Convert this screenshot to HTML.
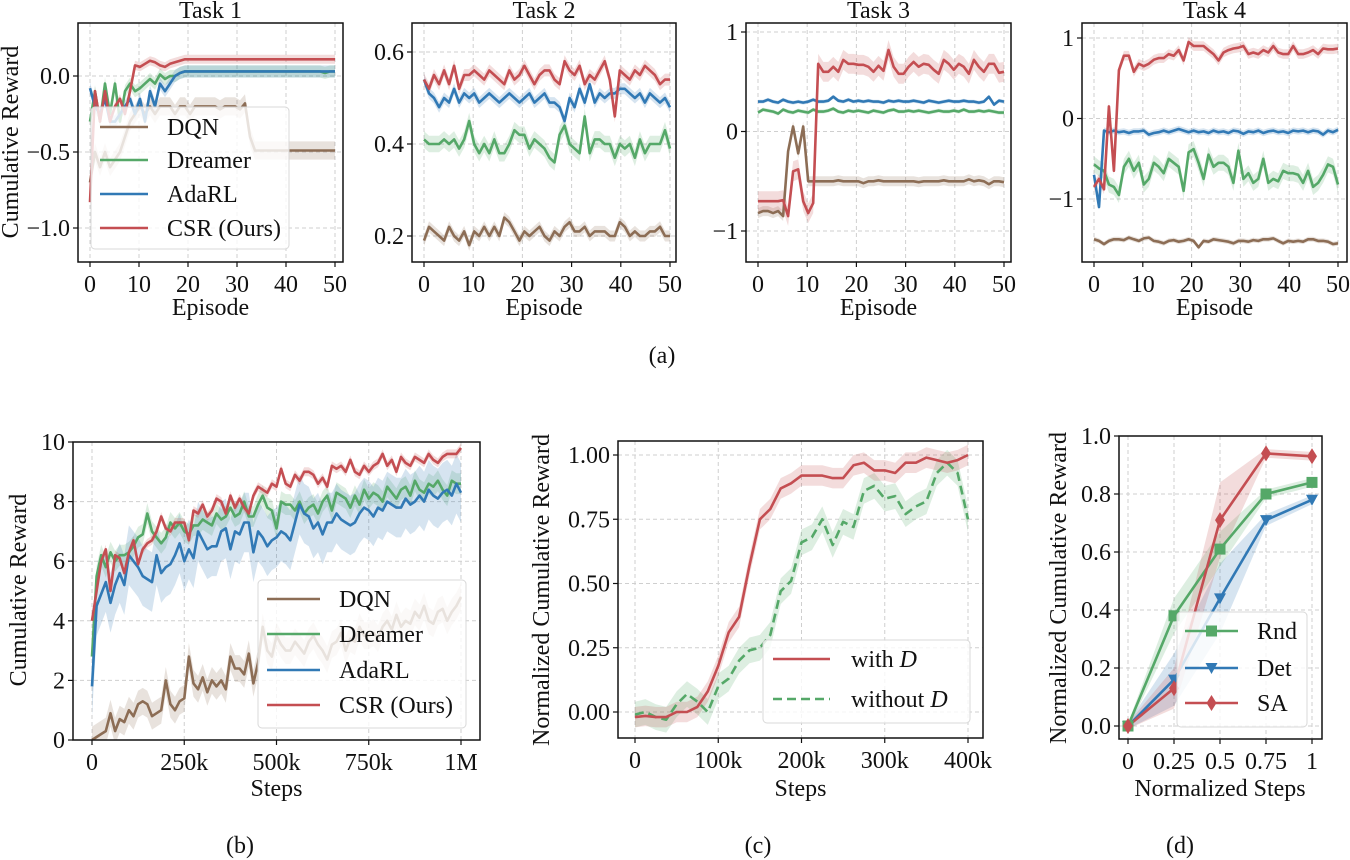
<!DOCTYPE html>
<html><head><meta charset="utf-8">
<style>
html,body{margin:0;padding:0;background:#fff;}
svg{display:block;}
svg text, svg tspan{font-family:"Liberation Serif","Times New Roman",serif;}
svg text{font-size:24px;}
</style></head>
<body>
<svg id="fig" width="1350" height="860" viewBox="0 0 1350 860" xmlns="http://www.w3.org/2000/svg" font-family="Liberation Serif, serif"></svg>
<script>
// ---------- data ----------
const episodes = Array.from({length:50},(_,i)=>i);
const t1CSR = [-0.83,-0.1,-0.3,-0.1,-0.3,-0.2,-0.15,-0.25,-0.1,0.07,0.06,0.08,0.1,0.09,0.07,0.06,0.08,0.09,0.1,0.11,0.11,0.11,0.11,0.11,0.11,0.11,0.11,0.11,0.11,0.11,0.11,0.11,0.11,0.11,0.11,0.11,0.11,0.11,0.11,0.11,0.11,0.11,0.11,0.11,0.11,0.11,0.11,0.11,0.11,0.11];
const t1Dreamer = [-0.3,-0.1,-0.3,-0.05,-0.25,-0.05,-0.3,-0.1,-0.05,-0.1,-0.08,-0.05,-0.02,-0.05,0.01,-0.02,0.0,0.0,0.02,0.03,0.03,0.03,0.03,0.03,0.03,0.03,0.03,0.03,0.03,0.03,0.03,0.03,0.03,0.03,0.03,0.03,0.03,0.03,0.03,0.03,0.03,0.03,0.03,0.03,0.03,0.03,0.03,0.02,0.03,0.03];
const t1AdaRL = [-0.08,-0.2,-0.25,-0.15,-0.3,-0.3,-0.25,-0.2,-0.15,-0.25,-0.15,-0.3,-0.1,-0.2,-0.05,-0.1,-0.05,0.0,0.02,0.03,0.03,0.03,0.03,0.03,0.03,0.03,0.03,0.03,0.03,0.03,0.03,0.03,0.03,0.03,0.03,0.03,0.03,0.03,0.03,0.03,0.03,0.03,0.03,0.03,0.03,0.03,0.03,0.03,0.03,0.03];
const t1DQN = [-0.7,-0.5,-0.6,-0.5,-0.6,-0.55,-0.5,-0.4,-0.3,-0.25,-0.2,-0.25,-0.2,-0.25,-0.2,-0.2,-0.2,-0.25,-0.2,-0.2,-0.25,-0.2,-0.2,-0.2,-0.2,-0.2,-0.22,-0.2,-0.2,-0.2,-0.22,-0.18,-0.4,-0.49,-0.49,-0.49,-0.49,-0.49,-0.49,-0.49,-0.49,-0.49,-0.49,-0.49,-0.49,-0.49,-0.49,-0.49,-0.49,-0.49];

const t2CSR = [0.54,0.52,0.55,0.53,0.56,0.53,0.57,0.52,0.55,0.55,0.56,0.55,0.54,0.56,0.55,0.54,0.53,0.56,0.54,0.55,0.57,0.55,0.53,0.55,0.56,0.56,0.54,0.53,0.58,0.56,0.55,0.57,0.53,0.55,0.54,0.56,0.58,0.54,0.46,0.56,0.55,0.54,0.56,0.55,0.57,0.56,0.55,0.53,0.54,0.54];
const t2AdaRL = [0.54,0.51,0.50,0.48,0.50,0.49,0.52,0.49,0.51,0.50,0.51,0.49,0.50,0.51,0.50,0.49,0.50,0.51,0.50,0.49,0.50,0.51,0.49,0.50,0.51,0.49,0.49,0.48,0.45,0.50,0.48,0.52,0.49,0.53,0.49,0.51,0.50,0.51,0.51,0.52,0.52,0.51,0.50,0.51,0.49,0.51,0.50,0.49,0.50,0.48];
const t2Dreamer = [0.41,0.40,0.40,0.40,0.41,0.40,0.41,0.39,0.41,0.45,0.40,0.38,0.40,0.38,0.41,0.38,0.38,0.40,0.43,0.42,0.42,0.39,0.41,0.40,0.39,0.37,0.36,0.42,0.44,0.40,0.39,0.38,0.46,0.38,0.41,0.41,0.40,0.40,0.37,0.40,0.39,0.40,0.37,0.41,0.38,0.40,0.40,0.40,0.43,0.39];
const t2DQN = [0.19,0.22,0.21,0.20,0.19,0.22,0.20,0.19,0.21,0.18,0.21,0.20,0.22,0.20,0.22,0.20,0.24,0.23,0.21,0.19,0.21,0.20,0.21,0.22,0.20,0.19,0.21,0.20,0.22,0.23,0.21,0.21,0.22,0.20,0.21,0.21,0.21,0.20,0.20,0.23,0.22,0.20,0.21,0.20,0.20,0.21,0.21,0.22,0.20,0.20];

const t3CSR = [-0.7,-0.7,-0.7,-0.7,-0.7,-0.69,-0.85,-0.4,-0.38,-0.7,-0.82,-0.72,0.68,0.6,0.6,0.65,0.6,0.72,0.68,0.68,0.67,0.67,0.65,0.6,0.66,0.61,0.82,0.65,0.58,0.58,0.65,0.7,0.65,0.68,0.67,0.62,0.58,0.72,0.68,0.62,0.68,0.65,0.58,0.72,0.65,0.6,0.68,0.68,0.59,0.6];
const t3AdaRL = [0.3,0.3,0.32,0.3,0.29,0.32,0.3,0.29,0.3,0.29,0.3,0.32,0.3,0.3,0.31,0.35,0.31,0.3,0.32,0.3,0.31,0.3,0.31,0.3,0.3,0.29,0.31,0.3,0.31,0.3,0.3,0.31,0.3,0.29,0.31,0.3,0.29,0.3,0.31,0.3,0.3,0.31,0.3,0.3,0.29,0.3,0.35,0.27,0.31,0.3];
const t3Dreamer = [0.19,0.22,0.21,0.2,0.18,0.22,0.2,0.19,0.21,0.2,0.19,0.22,0.2,0.2,0.21,0.23,0.2,0.19,0.21,0.2,0.21,0.2,0.19,0.21,0.2,0.19,0.21,0.22,0.2,0.2,0.21,0.2,0.21,0.2,0.19,0.2,0.21,0.2,0.2,0.21,0.2,0.22,0.2,0.2,0.21,0.2,0.21,0.2,0.19,0.19];
const t3DQN = [-0.82,-0.8,-0.8,-0.82,-0.8,-0.85,-0.2,0.05,-0.22,0.05,-0.5,-0.5,-0.5,-0.5,-0.5,-0.5,-0.49,-0.5,-0.5,-0.5,-0.5,-0.52,-0.5,-0.5,-0.49,-0.5,-0.5,-0.5,-0.5,-0.5,-0.5,-0.5,-0.51,-0.5,-0.5,-0.5,-0.5,-0.49,-0.5,-0.5,-0.5,-0.5,-0.48,-0.5,-0.49,-0.5,-0.53,-0.5,-0.5,-0.51];

const t4CSR = [-0.85,-0.75,-0.88,0.15,-0.65,0.6,0.78,0.78,0.58,0.68,0.65,0.68,0.73,0.75,0.75,0.8,0.78,0.85,0.72,0.95,0.9,0.9,0.9,0.85,0.8,0.72,0.82,0.85,0.87,0.88,0.9,0.8,0.82,0.8,0.85,0.82,0.9,0.82,0.8,0.8,0.9,0.8,0.8,0.82,0.85,0.8,0.87,0.86,0.86,0.87];
const t4AdaRL = [-0.7,-1.1,-0.15,-0.17,-0.15,-0.17,-0.16,-0.18,-0.16,-0.16,-0.15,-0.2,-0.18,-0.17,-0.15,-0.17,-0.15,-0.13,-0.15,-0.17,-0.15,-0.17,-0.16,-0.18,-0.15,-0.17,-0.16,-0.18,-0.15,-0.16,-0.19,-0.16,-0.17,-0.15,-0.18,-0.16,-0.15,-0.17,-0.16,-0.18,-0.15,-0.16,-0.15,-0.17,-0.15,-0.16,-0.2,-0.15,-0.17,-0.14];
const t4Dreamer = [-0.57,-0.62,-0.65,-0.82,-0.85,-0.95,-0.6,-0.5,-0.65,-0.55,-0.82,-0.75,-0.55,-0.6,-0.68,-0.5,-0.55,-0.6,-0.9,-0.42,-0.38,-0.55,-0.75,-0.45,-0.6,-0.55,-0.55,-0.6,-0.8,-0.4,-0.75,-0.68,-0.8,-0.75,-0.5,-0.8,-0.75,-0.78,-0.65,-0.68,-0.68,-0.7,-0.8,-0.65,-0.85,-0.8,-0.7,-0.57,-0.6,-0.82];
const t4DQN = [-1.5,-1.52,-1.56,-1.52,-1.5,-1.5,-1.51,-1.48,-1.5,-1.52,-1.49,-1.48,-1.52,-1.53,-1.55,-1.52,-1.51,-1.53,-1.52,-1.5,-1.52,-1.6,-1.52,-1.53,-1.5,-1.51,-1.52,-1.53,-1.55,-1.52,-1.52,-1.53,-1.51,-1.52,-1.5,-1.5,-1.49,-1.52,-1.55,-1.52,-1.53,-1.52,-1.53,-1.5,-1.5,-1.52,-1.52,-1.53,-1.56,-1.55];

const bCSR = [4.0,5.0,6.0,6.4,5.0,6.2,6.1,5.6,6.3,6.7,5.9,6.4,6.6,6.7,7.0,7.5,7.1,7.0,7.3,7.3,7.3,6.7,7.7,7.6,7.9,7.5,7.7,8.1,8.0,7.6,8.2,7.8,8.1,7.8,7.6,8.2,8.5,8.4,8.3,8.6,8.5,9.1,8.6,8.5,8.9,8.7,9.0,9.0,8.9,8.6,8.8,8.5,9.2,9.1,9.2,9.0,9.4,9.0,8.9,9.2,9.0,9.2,9.3,9.6,9.2,9.4,9.0,9.5,9.3,9.2,9.5,9.4,9.3,9.6,9.4,9.3,9.5,9.6,9.6,9.6,9.8];
const bDreamer = [2.8,5.5,6.2,5.8,6.3,6.0,6.2,6.2,6.3,6.5,6.8,6.9,7.6,7.0,6.8,6.6,6.8,7.3,7.1,7.3,7.0,6.9,7.2,7.2,7.4,7.3,7.2,7.6,7.4,7.5,7.8,7.5,7.6,8.0,7.5,7.5,7.9,8.2,7.8,7.7,7.1,8.0,7.9,7.9,7.7,8.0,7.6,7.8,7.9,7.6,8.0,8.2,7.7,8.3,8.2,8.1,7.8,8.2,7.9,8.4,8.1,8.3,8.2,8.0,8.5,8.3,8.1,8.4,8.5,8.2,8.7,8.4,8.3,8.6,8.5,8.7,8.4,8.2,8.7,8.6,8.6];
const bAdaRL = [1.8,4.5,4.9,5.3,4.6,5.2,5.6,5.2,6.2,6.0,5.8,5.5,5.4,5.3,6.2,5.6,5.8,5.9,6.2,6.6,6.0,6.4,6.1,7.0,6.7,6.4,6.5,6.5,7.0,7.1,6.4,7.0,6.9,7.3,7.3,6.3,7.0,6.8,6.5,6.7,6.8,7.0,6.9,6.7,7.3,7.9,7.6,7.5,7.1,7.3,6.9,7.3,7.3,7.6,7.4,7.3,7.2,7.3,7.6,7.8,7.7,7.5,7.8,7.7,8.0,7.9,7.8,7.8,8.1,7.9,8.0,8.2,8.0,8.4,8.2,8.1,8.3,8.4,8.2,8.6,8.3];
const bDQN = [0,0.1,0.2,0.3,0.9,0.3,0.7,0.6,1.0,0.8,1.2,1.3,1.2,0.8,0.9,1.0,2.0,1.2,1.0,1.3,1.4,2.8,1.9,1.7,2.1,1.6,2.0,1.8,2.0,1.7,2.8,2.4,2.4,2.2,2.9,1.9,2.6,3.8,3.0,2.8,3.5,3.2,3.0,3.0,3.3,3.1,2.9,3.3,3.5,3.2,3.0,2.7,3.2,3.3,3.6,3.0,3.4,3.3,3.8,3.5,3.5,3.6,3.4,3.8,4.0,3.7,4.2,3.8,4.0,3.9,4.3,4.1,4.5,4.0,3.9,4.3,4.4,4.0,4.3,4.5,4.8];

const cWithD = [-0.02,-0.015,-0.02,-0.02,0.0,0.0,0.02,0.08,0.18,0.31,0.37,0.57,0.75,0.79,0.87,0.89,0.92,0.92,0.92,0.91,0.91,0.96,0.97,0.94,0.94,0.93,0.97,0.97,0.99,0.98,0.97,0.98,1.0];
const cWithoutD = [-0.01,0.0,-0.02,-0.03,0.03,0.07,0.04,0.0,0.1,0.13,0.2,0.24,0.25,0.3,0.47,0.51,0.66,0.68,0.75,0.65,0.74,0.72,0.86,0.88,0.83,0.84,0.77,0.8,0.82,0.93,0.97,0.93,0.75];

const dSteps = [0,0.25,0.5,0.75,1];
const dRnd = [0.0,0.38,0.61,0.8,0.84];
const dDet = [0.0,0.16,0.44,0.71,0.78];
const dSA = [0.0,0.13,0.71,0.94,0.93];
const dRndBand = [0.01,0.06,0.06,0.015,0.015];
const dDetBand = [0.01,0.09,0.12,0.02,0.015];
const dSABand = [0.01,0.07,0.13,0.015,0.015];

const epTicks = [0,10,20,30,40,50];
const bTicks = [0,250000,500000,750000,1000000];
const bTickLabels = ['0','250k','500k','750k','1M'];
const cTicks = [0,100000,200000,300000,400000];
const cTickLabels = ['0','100k','200k','300k','400k'];
const dTickLabels = ['0','0.25','0.5','0.75','1'];

const RED='#c44e52', GREEN='#55a868', BLUE='#3179b5', BROWN='#8c6d55';
const NS='http://www.w3.org/2000/svg';
const FONT='"Liberation Serif", "Times New Roman", serif';
const svg=document.getElementById('fig');
function mk(tag,attrs,parent){const e=document.createElementNS(NS,tag);for(const k in attrs)e.setAttribute(k,attrs[k]);if(tag==='text'){e.style.fontFamily=FONT;e.style.fontSize='24px';}(parent||svg).appendChild(e);return e;}
let clipId=0;

function panel(c){
  const g=mk('g',{});
  
  
  const sx=v=>c.x0px+(v-c.xmin)/(c.xmax-c.xmin)*(c.x1px-c.x0px);
  const sy=v=>c.y0px+(v-c.ymin)/(c.ymax-c.ymin)*(c.y1px-c.y0px);
  c.xticks.forEach(v=>{const l=mk('line',{x1:sx(v),x2:sx(v),y1:c.T,y2:c.B,stroke:'#cfcfcf','stroke-width':1,'stroke-dasharray':'4,3'},g);
    
    });
  c.yticks.forEach(v=>{const l=mk('line',{x1:c.L,x2:c.R,y1:sy(v),y2:sy(v),stroke:'#cfcfcf','stroke-width':1,'stroke-dasharray':'4,3'},g);
    
    });
  const id='clip'+(clipId++);
  const cp=mk('clipPath',{id:id},g);mk('rect',{x:c.L,y:c.T,width:c.R-c.L,height:c.B-c.T},cp);
  const sg=mk('g',{'clip-path':'url(#'+id+')'},g);
  c.series.forEach(s=>{
    const n=s.ys.length;const xs=s.xs||s.ys.map((_,i)=>c.xmin+i*(c.xmax-c.xmin)/(n-1));
    const bw=i=>Array.isArray(s.band)?s.band[i]:s.band;
    let d='';for(let i=0;i<n;i++)d+=(i?'L':'M')+sx(xs[i]).toFixed(1)+','+sy(s.ys[i]+bw(i)).toFixed(1);
    for(let i=n-1;i>=0;i--)d+='L'+sx(xs[i]).toFixed(1)+','+sy(s.ys[i]-bw(i)).toFixed(1);
    const p=mk('path',{d:d+'Z',fill:s.color,'fill-opacity':0.2,stroke:'none'},sg);
    
    
  });
  c.series.forEach(s=>{
    const n=s.ys.length;const xs=s.xs||s.ys.map((_,i)=>c.xmin+i*(c.xmax-c.xmin)/(n-1));
    let d='';for(let i=0;i<n;i++)d+=(i?'L':'M')+sx(xs[i]).toFixed(1)+','+sy(s.ys[i]).toFixed(1);
    const p=mk('path',{d:d,fill:'none',stroke:s.color,'stroke-width':2.6,'stroke-linejoin':'round'},sg);
    if(s.dash)p.setAttribute('stroke-dasharray',s.dash);
    
    
    if(s.marker){for(let i=0;i<n;i++){const m=marker(s.marker,sx(xs[i]),sy(s.ys[i]),s.color,g);
      
      }}
  });
  const fr=mk('rect',{x:c.L,y:c.T,width:c.R-c.L,height:c.B-c.T,fill:'none',stroke:'#111','stroke-width':1.5},g);
  
  
  c.xticks.forEach((v,i)=>{mk('line',{x1:sx(v),x2:sx(v),y1:c.B,y2:c.B+5,stroke:'#111','stroke-width':1.2},g);
    const t=mk('text',{x:sx(v),y:c.B+30,'text-anchor':'middle','font-size':24,fill:'#111'},g);t.textContent=c.xlabels?c.xlabels[i]:String(v);
    
    });
  c.yticks.forEach((v,i)=>{mk('line',{x1:c.L-5,x2:c.L,y1:sy(v),y2:sy(v),stroke:'#111','stroke-width':1.2},g);
    const t=mk('text',{x:c.L-8,y:sy(v)+8,'text-anchor':'end','font-size':24,fill:'#111'},g);t.textContent=c.ylabels[i];
    
    });
  if(c.title){const t=mk('text',{x:(c.L+c.R)/2,y:18,'text-anchor':'middle','font-size':24,fill:'#111'},g);t.textContent=c.title;
    
    }
  if(c.xtitle){const t=mk('text',{x:c.xtitleX||(c.L+c.R)/2,y:c.xtitleY,'text-anchor':'middle','font-size':24,fill:'#111'},g);t.textContent=c.xtitle;
    
    }
  if(c.ytitle){const t=mk('text',{x:0,y:0,'text-anchor':'middle','font-size':24,fill:'#111',transform:'translate('+(c.ytitleX+8)+','+c.ytitleY+') rotate(-90)'},g);t.textContent=c.ytitle;
    
    }
  return g;
}
function marker(type,x,y,color,parent){
  if(type==='s')return mk('rect',{x:x-5.5,y:y-5.5,width:11,height:11,fill:color},parent);
  if(type==='v')return mk('path',{d:`M${x-6},${y-5}L${x+6},${y-5}L${x},${y+6}Z`,fill:color},parent);
  return mk('path',{d:`M${x},${y-8}L${x+5},${y}L${x},${y+8}L${x-5},${y}Z`,fill:color},parent);
}
function legend(name,box,entries){
  const g=mk('g',{});
  
  
  mk('rect',{x:box[0],y:box[1],width:box[2],height:box[3],rx:4,fill:'#fff','fill-opacity':0.8,stroke:'#d8d8d8','stroke-width':1},g);
  entries.forEach(e=>{
    const eg=mk('g',{},g);
    
    
    const l=mk('line',{x1:e.lx,x2:e.lx+e.lw,y1:e.y,y2:e.y,stroke:e.color,'stroke-width':2.6},eg);
    if(e.dash)l.setAttribute('stroke-dasharray',e.dash);
    if(e.marker)marker(e.marker,e.lx+e.lw/2,e.y,e.color,eg);
    const t=mk('text',{x:e.tx,y:e.y+8,'font-size':24,fill:'#111'},eg);
    if(e.italic){t.textContent=e.text+' ';const ts=mk('tspan',{'font-style':'italic'},t);ts.textContent='D';}
    else t.textContent=e.text;
  });
}
function caption(txt,x,y){const t=mk('text',{x:x,y:y,'text-anchor':'middle','font-size':24,fill:'#111'});t.textContent=txt;
  
  }

const topCommon={T:23,B:262,xmin:0,xmax:50,xticks:epTicks,xtitle:'Episode',xtitleY:315};
panel(Object.assign({},topCommon,{name:'task1-panel',title:'Task 1',L:78,R:343,x0px:90,x1px:335,ymin:0,ymax:-1,y0px:76,y1px:228,
  yticks:[0,-0.5,-1],ylabels:['0.0','\u22120.5','\u22121.0'],ytitle:'Cumulative Reward',ytitleX:10,ytitleY:142,
  series:[{label:'DQN',color:BROWN,ys:t1DQN,band:0.06},{label:'Dreamer',color:GREEN,ys:t1Dreamer,band:0.04},
          {label:'AdaRL',color:BLUE,ys:t1AdaRL,band:0.04},{label:'CSR',color:RED,ys:t1CSR,band:0.03}]}));
panel(Object.assign({},topCommon,{name:'task2-panel',title:'Task 2',L:412,R:676,x0px:424,x1px:670,ymin:0.6,ymax:0.2,y0px:52,y1px:236,
  yticks:[0.6,0.4,0.2],ylabels:['0.6','0.4','0.2'],
  series:[{label:'DQN',color:BROWN,ys:t2DQN,band:0.012},{label:'Dreamer',color:GREEN,ys:t2Dreamer,band:0.018},
          {label:'AdaRL',color:BLUE,ys:t2AdaRL,band:0.012},{label:'CSR',color:RED,ys:t2CSR,band:0.013}]}));
panel(Object.assign({},topCommon,{name:'task3-panel',title:'Task 3',L:746,R:1011,x0px:758,x1px:1004,ymin:1,ymax:-1,y0px:32,y1px:231,
  yticks:[1,0,-1],ylabels:['1','0','\u22121'],
  series:[{label:'DQN',color:BROWN,ys:t3DQN,band:0.05},{label:'Dreamer',color:GREEN,ys:t3Dreamer,band:0.02},
          {label:'AdaRL',color:BLUE,ys:t3AdaRL,band:0.02},{label:'CSR',color:RED,ys:t3CSR,band:0.1}]}));
panel(Object.assign({},topCommon,{name:'task4-panel',title:'Task 4',L:1082,R:1347,x0px:1094,x1px:1338,ymin:1,ymax:-1,y0px:38,y1px:199,
  yticks:[1,0,-1],ylabels:['1','0','\u22121'],
  series:[{label:'DQN',color:BROWN,ys:t4DQN,band:0.03},{label:'Dreamer',color:GREEN,ys:t4Dreamer,band:0.1},
          {label:'AdaRL',color:BLUE,ys:t4AdaRL,band:0.04},{label:'CSR',color:RED,ys:t4CSR,band:0.06}]}));
legend('task1-legend',[91,107,198,142],[
  {lx:100,lw:48,y:127,color:BROWN,tx:167,text:'DQN'},
  {lx:100,lw:48,y:160,color:GREEN,tx:167,text:'Dreamer'},
  {lx:100,lw:48,y:194,color:BLUE,tx:167,text:'AdaRL'},
  {lx:100,lw:48,y:228,color:RED,tx:167,text:'CSR (Ours)'}]);
caption('(a)',662,363);

panel({name:'panel-b',L:73,R:480,T:442,B:740,xmin:0,xmax:1000000,x0px:92,x1px:461,ymin:0,ymax:10,y0px:740,y1px:442,
  xticks:bTicks,xlabels:bTickLabels,yticks:[0,2,4,6,8,10],ylabels:['0','2','4','6','8','10'],
  xtitle:'Steps',xtitleY:796,ytitle:'Cumulative Reward',ytitleX:18,ytitleY:590,
  series:[{label:'DQN',color:BROWN,ys:bDQN,band:0.45},{label:'Dreamer',color:GREEN,ys:bDreamer,band:0.35},
          {label:'AdaRL',color:BLUE,ys:bAdaRL,band:1.0},{label:'CSR',color:RED,ys:bCSR,band:0.15}]});
legend('panel-b-legend',[258,580,208,148],[
  {lx:267,lw:53,y:599,color:BROWN,tx:339,text:'DQN'},
  {lx:267,lw:53,y:634,color:GREEN,tx:339,text:'Dreamer'},
  {lx:267,lw:53,y:670,color:BLUE,tx:339,text:'AdaRL'},
  {lx:267,lw:53,y:705,color:RED,tx:339,text:'CSR (Ours)'}]);
caption('(b)',240,853);

panel({name:'panel-c',L:618,R:983,T:441,B:738,xmin:0,xmax:400000,x0px:635,x1px:968,ymin:0,ymax:1,y0px:712,y1px:455,
  xticks:cTicks,xlabels:cTickLabels,yticks:[0,0.25,0.5,0.75,1],ylabels:['0.00','0.25','0.50','0.75','1.00'],
  xtitle:'Steps',xtitleY:796,ytitle:'Normalized Cumulative Reward',ytitleX:541,ytitleY:590,
  series:[{label:'without D',color:GREEN,ys:cWithoutD,band:0.05,dash:'9,5'},{label:'with D',color:RED,ys:cWithD,band:0.04}]});
legend('panel-c-legend',[763,640,207,83],[
  {lx:773,lw:57,y:659,color:RED,tx:851,text:'with',italic:true},
  {lx:773,lw:57,y:699,color:GREEN,dash:'9,5',tx:851,text:'without',italic:true}]);
caption('(c)',758,853);

panel({name:'panel-d',L:1119,R:1322,T:436,B:739,xmin:0,xmax:1,x0px:1128,x1px:1312,ymin:0,ymax:1,y0px:726,y1px:436,
  xticks:dSteps,xlabels:dTickLabels,yticks:[0,0.2,0.4,0.6,0.8,1.0],ylabels:['0.0','0.2','0.4','0.6','0.8','1.0'],
  xtitle:'Normalized Steps',xtitleX:1220,xtitleY:796,ytitle:'Normalized Cumulative Reward',ytitleX:1058,ytitleY:588,
  series:[{label:'Det',color:BLUE,xs:dSteps,ys:dDet,band:dDetBand,marker:'v'},
          {label:'Rnd',color:GREEN,xs:dSteps,ys:dRnd,band:dRndBand,marker:'s'},
          {label:'SA',color:RED,xs:dSteps,ys:dSA,band:dSABand,marker:'d'}]});
legend('panel-d-legend',[1177,612,130,115],[
  {lx:1185,lw:53,y:631,color:GREEN,marker:'s',tx:1257,text:'Rnd'},
  {lx:1185,lw:53,y:668,color:BLUE,marker:'v',tx:1257,text:'Det'},
  {lx:1185,lw:53,y:703,color:RED,marker:'d',tx:1257,text:'SA'}]);
caption('(d)',1180,853);
</script>
</body></html>
